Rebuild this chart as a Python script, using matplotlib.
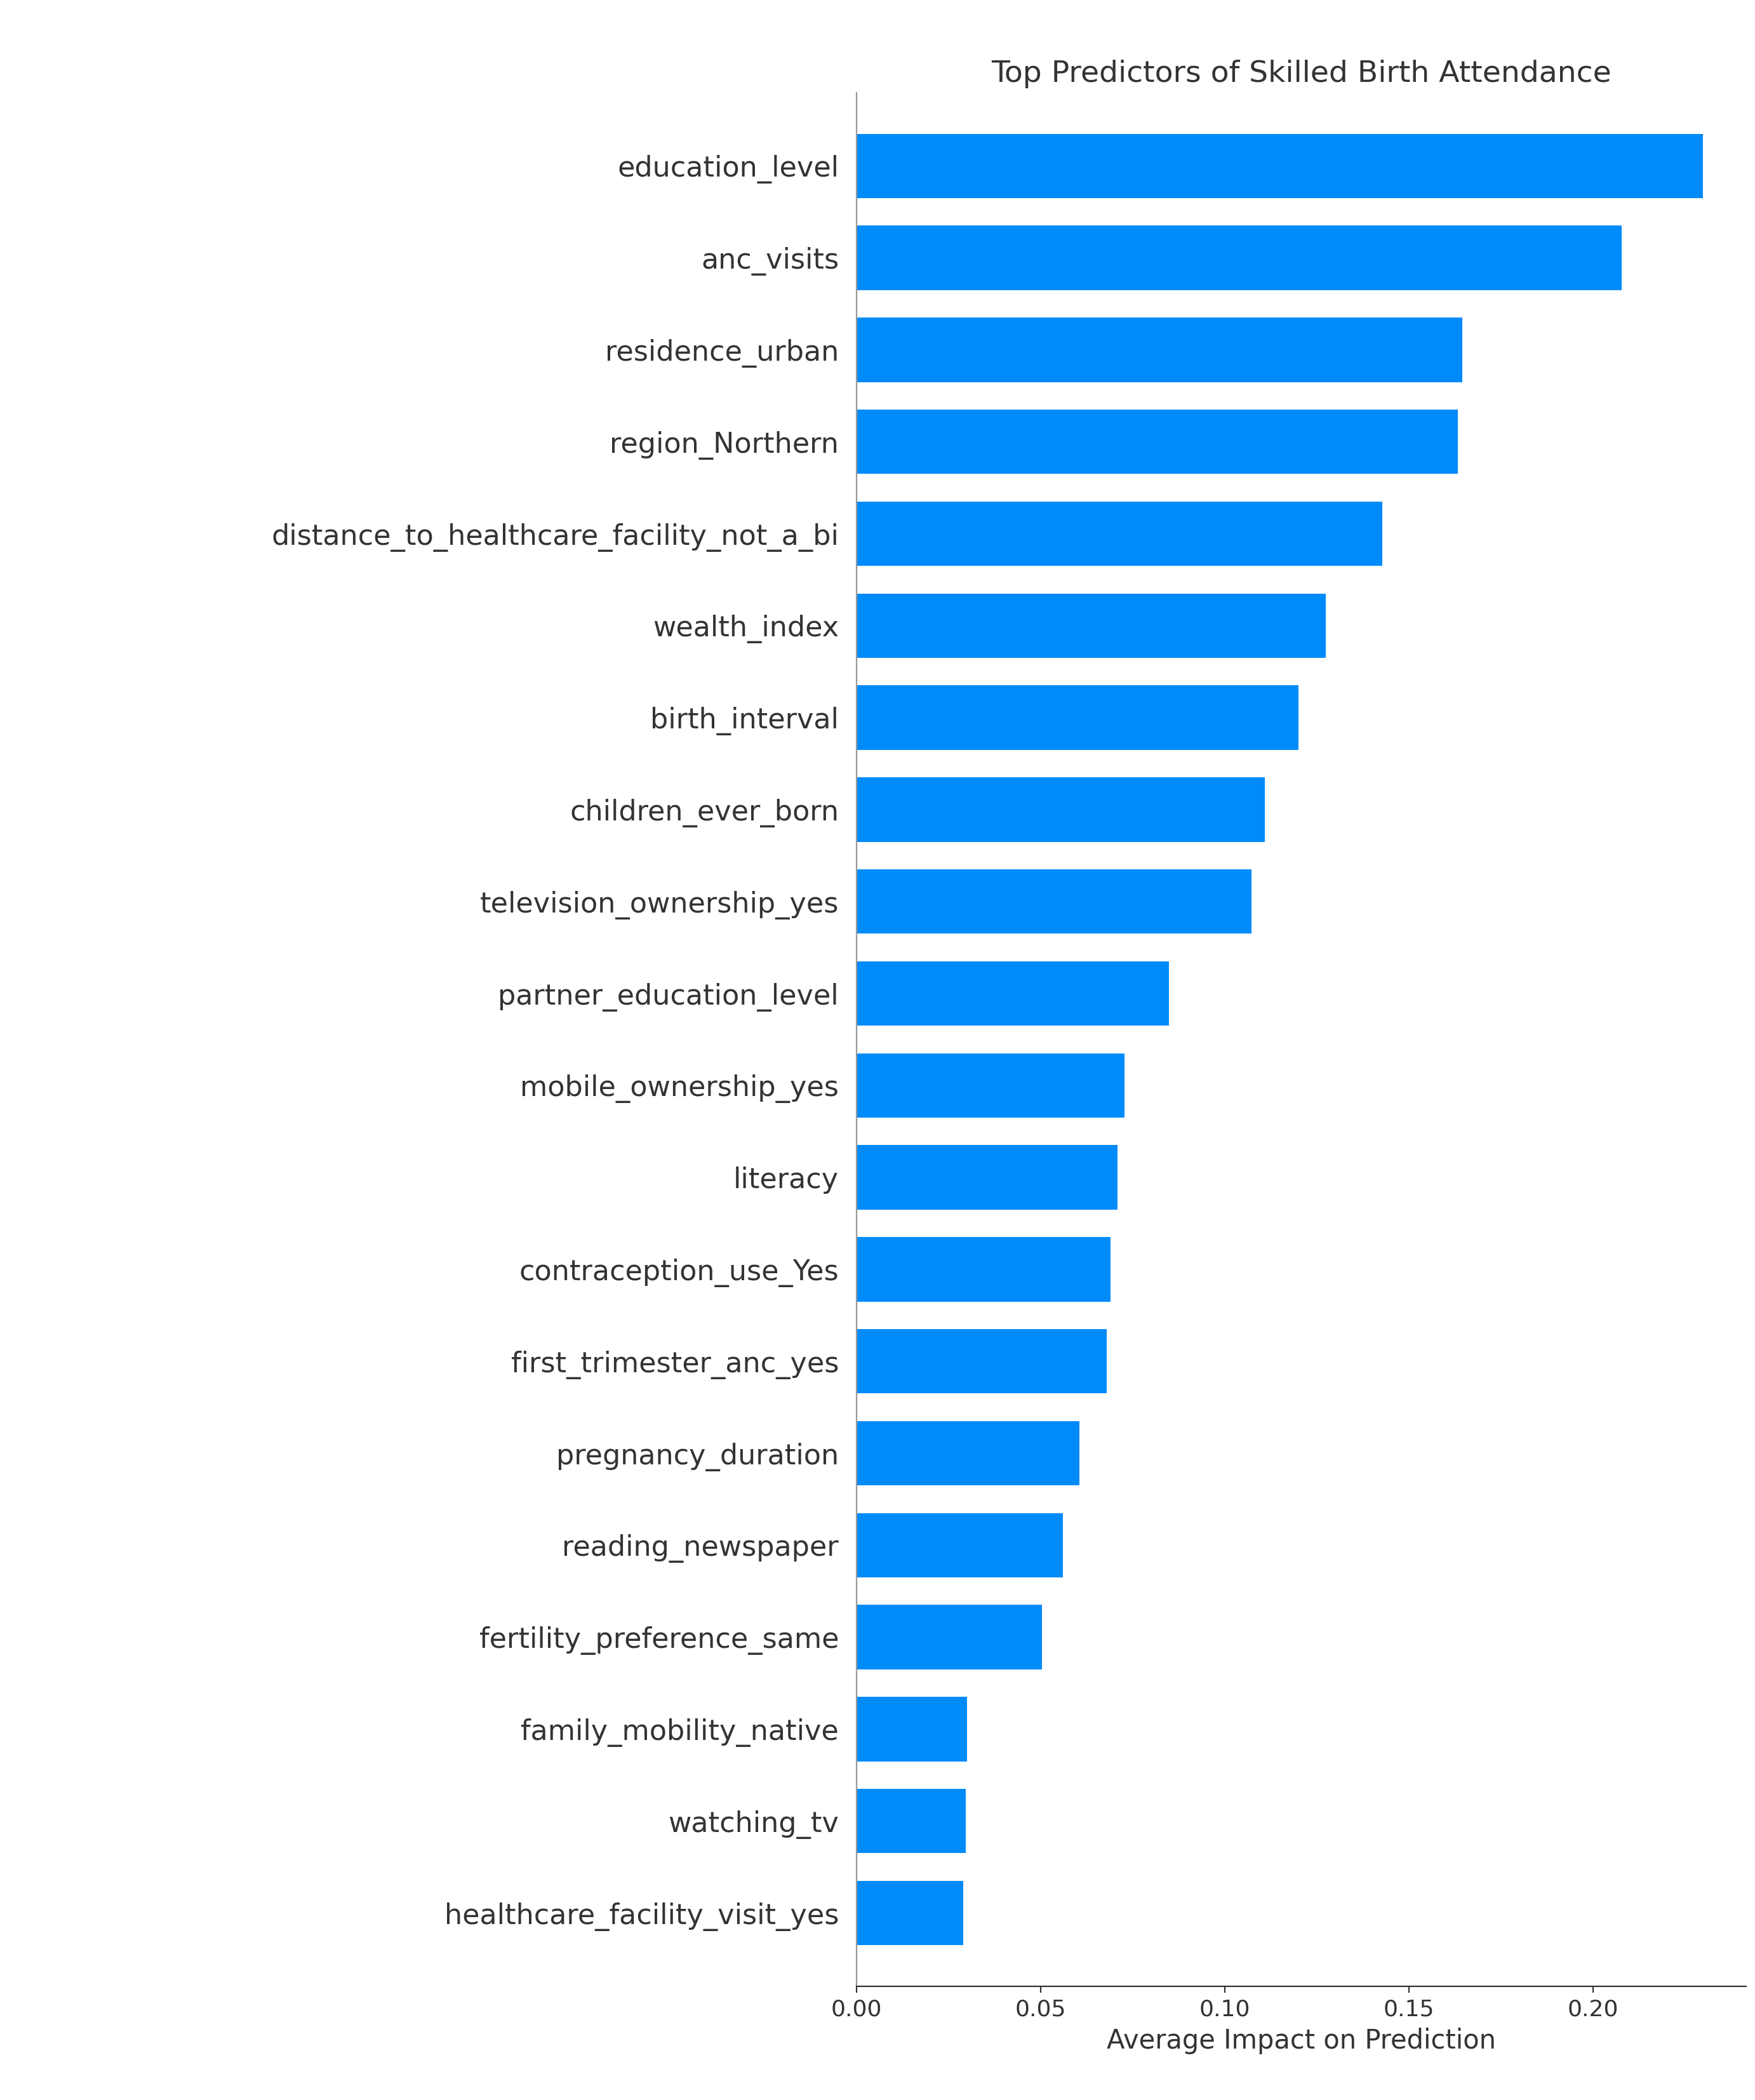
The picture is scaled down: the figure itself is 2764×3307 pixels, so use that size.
import matplotlib
matplotlib.use("Agg")
import matplotlib.pyplot as plt

features = ["education_level","anc_visits","residence_urban","region_Northern",
 "distance_to_healthcare_facility_not_a_bi","wealth_index","birth_interval",
 "children_ever_born","television_ownership_yes","partner_education_level",
 "mobile_ownership_yes","literacy","contraception_use_Yes","first_trimester_anc_yes",
 "pregnancy_duration","reading_newspaper","fertility_preference_same",
 "family_mobility_native","watching_tv","healthcare_facility_visit_yes"]
values = [0.2297,0.2077,0.1644,0.1633,0.1428,0.1273,0.1200,0.1108,0.1072,0.0848,
 0.0727,0.0708,0.0690,0.0679,0.0606,0.0561,0.0503,0.0301,0.0297,0.0290]
xticks = [0.00,0.05,0.10,0.15,0.20]

fig = plt.figure(figsize=(13.82,16.535), dpi=200)
ax = fig.add_axes([0.488,0.054,0.507,0.902])
y = list(range(len(features)))[::-1]
ax.barh(y, values, height=0.7, color="#008bfb")
ax.set_yticks(y)
ax.set_yticklabels(features, fontsize=16, color="#333333")
ax.set_ylim(-0.8, len(features)-0.2)
ax.set_xlim(0, 0.2415)
ax.set_xticks(xticks)
ax.set_xticklabels([f"{t:.2f}" for t in xticks], fontsize=13, color="#333333")
ax.tick_params(axis="y", length=0, pad=10)
ax.tick_params(axis="x", colors="#333333", labelcolor="#333333")
for s in ["top","right"]:
    ax.spines[s].set_visible(False)
ax.spines["left"].set_color("#999999")
ax.spines["bottom"].set_color("#333333")
ax.set_xlabel("Average Impact on Prediction", fontsize=15, color="#333333")
ax.set_title("Top Predictors of Skilled Birth Attendance", fontsize=17, color="#333333")
fig.savefig("out.png", dpi=200)
